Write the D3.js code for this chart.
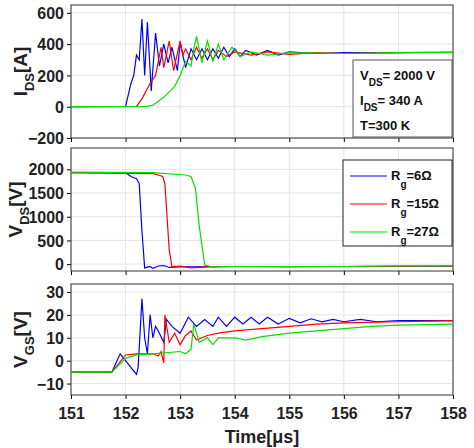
<!DOCTYPE html><html><head><meta charset="utf-8"><script src="https://cdn.jsdelivr.net/npm/d3@7"></script>
<style>body{margin:0;background:#fff}text{font-family:"Liberation Sans",Arial,sans-serif;font-weight:bold}</style></head><body><svg id="c" width="474" height="448"></svg><script>
const timeTicks=[151,152,153,154,155,156,157,158];
const idsTicks=[-200,0,200,400,600], vdsTicks=[0,500,1000,1500,2000], vgsTicks=[-10,0,10,20,30];
const seriesNames=["R_g=6Ω","R_g=15Ω","R_g=27Ω"];
const colors=["#0000ff","#ff0000","#00e000"];
const idsBlue=[[151,0],[152,2],[152.1,150],[152.15,200],[152.2,330],[152.25,300],[152.3,560],[152.35,200],[152.4,540],[152.47,100],[152.55,470],[152.62,260],[152.7,400],[152.78,280],[152.85,380],[152.95,230],[153,410],[153.1,250],[153.2,370],[153.3,300],[153.4,370],[153.5,300],[153.6,370],[153.7,310],[153.8,380],[153.9,320],[154,370],[154.1,320],[154.2,360],[154.4,330],[154.6,360],[154.8,330],[155,350],[155.5,340],[156,345],[157,345],[158,348]];
const idsRed=[[151,0],[152.2,2],[152.3,50],[152.45,150],[152.55,200],[152.65,380],[152.7,250],[152.8,420],[152.88,230],[153,420],[153.05,330],[153.1,370],[153.2,300],[153.3,380],[153.4,310],[153.5,370],[153.6,300],[153.7,360],[153.85,320],[154,350],[154.3,330],[154.6,350],[155,335],[155.5,345],[156,340],[157,345],[158,348]];
const idsGreen=[[151,0],[152.4,2],[152.5,10],[152.7,60],[152.9,130],[153,200],[153.1,290],[153.2,260],[153.25,370],[153.3,450],[153.4,280],[153.5,420],[153.6,290],[153.7,400],[153.8,300],[153.95,380],[154.1,320],[154.3,350],[154.6,330],[155,345],[156,340],[157,345],[158,345]];
const vdsBlue=[[151,1930],[152,1930],[152.1,1850],[152.2,1800],[152.25,1700],[152.3,700],[152.35,-80],[152.45,-50],[152.5,-90],[152.6,-40],[152.7,-30],[152.8,-70],[153,-60],[154,-50],[155,-55],[156,-50],[157,-45],[158,-45]];
const vdsRed=[[151,1930],[152.5,1910],[152.6,1880],[152.68,1850],[152.72,1700],[152.8,300],[152.85,-50],[153,-40],[153.2,-80],[153.5,-60],[154,-50],[155,-55],[156,-50],[157,-45],[158,-40]];
const vdsGreen=[[151,1940],[152.5,1930],[153.1,1880],[153.2,1850],[153.28,1600],[153.35,800],[153.45,-20],[153.6,-60],[154,-50],[155,-50],[156,-50],[157,-40],[158,-40]];
const vgsBlue=[[151,-5],[151.75,-5],[151.9,3],[152,0],[152.1,-3],[152.2,-6],[152.23,-3],[152.3,27],[152.35,10],[152.4,3],[152.45,20],[152.5,10],[152.55,15],[152.6,13],[152.7,8],[152.75,18],[152.85,15],[153,12],[153.15,19],[153.3,15],[153.45,18],[153.6,15],[153.7,19],[153.85,15],[154,19],[154.15,16],[154.3,19],[154.45,16],[154.6,19],[154.8,16],[155,18.5],[155.2,16.5],[155.4,18.3],[155.6,17],[155.8,18],[156,17],[156.3,18],[156.6,17],[157,17.5],[158,17.5]];
const vgsRed=[[151,-5],[151.75,-5],[152,2.5],[152.2,3],[152.5,3],[152.6,2],[152.65,4],[152.7,-1],[152.72,20],[152.8,8],[152.9,12],[153,7],[153.1,11],[153.2,13],[153.3,9],[153.5,11],[153.7,12],[154,13],[154.5,14],[155,15],[155.5,16],[156,16.5],[157,17],[158,17.5]];
const vgsGreen=[[151,-5],[151.75,-5],[152,1],[152.2,2.5],[152.5,3],[153,4],[153.1,3],[153.2,5],[153.25,16],[153.35,8],[153.5,10],[153.6,7],[153.7,10],[154,10],[154.2,9],[154.5,10.5],[155,12],[155.5,13],[156,14],[156.5,15],[157,15.5],[158,16]];

const svg=d3.select("#c");
const x=d3.scaleLinear().domain([151,158]).range([71,453]);
const panels=[
 {top:5,bot:138,dom:[-200,650],ticks:idsTicks,lab:["I","DS","[A]"],data:[idsBlue,idsRed,idsGreen]},
 {top:148,bot:271,dom:[-145,2450],ticks:vdsTicks,lab:["V","DS","[V]"],data:[vdsBlue,vdsRed,vdsGreen]},
 {top:284,bot:395,dom:[-15,33.5],ticks:vgsTicks,lab:["V","GS","[V]"],data:[vgsBlue,vgsRed,vgsGreen]}];
panels.forEach((p,pi)=>{
 const y=d3.scaleLinear().domain(p.dom).range([p.bot,p.top]);
 const g=svg.append("g");
 g.append("g").selectAll("line").data(timeTicks).join("line").attr("x1",d=>x(d)).attr("x2",d=>x(d)).attr("y1",p.top).attr("y2",p.bot).attr("stroke","#e3e3e3");
 g.append("g").selectAll("line").data(p.ticks).join("line").attr("x1",71).attr("x2",453).attr("y1",d=>y(d)).attr("y2",d=>y(d)).attr("stroke","#e3e3e3");
 const ax=g.append("g").attr("transform",`translate(71,0)`).call(d3.axisLeft(y).tickValues(p.ticks).tickSize(4).tickSizeOuter(0).tickFormat(d3.format("d")));
 ax.selectAll("text").style("font-size","16px").attr("fill","#222").attr("dy","0.35em");
 ax.select(".domain").remove();
 const bx=g.append("g").attr("transform",`translate(0,${p.bot})`).call(d3.axisBottom(x).tickValues(timeTicks).tickSize(4).tickSizeOuter(0).tickFormat(pi==2?d3.format("d"):""));
 bx.selectAll("text").style("font-size","16px").attr("fill","#222").attr("dy","1.05em");
 bx.select(".domain").remove();
 g.append("rect").attr("x",71).attr("y",p.top).attr("width",382).attr("height",p.bot-p.top).attr("fill","none").attr("stroke","#333");
 const line=d3.line().x(d=>x(d[0])).y(d=>y(d[1]));
 p.data.forEach((s,i)=>g.append("path").attr("d",line(s)).attr("fill","none").attr("stroke",colors[i]).attr("stroke-width",1.2));
 const cy=(p.top+p.bot)/2;
 const t=g.append("text").attr("transform",`translate(${pi==1?22:27},${cy}) rotate(-90)`).attr("text-anchor","middle").style("font-size","19px").attr("fill","#222");
 t.append("tspan").text(p.lab[0]);
 t.append("tspan").text(p.lab[1]).style("font-size","13px").attr("dy",7);
 t.append("tspan").text(p.lab[2]).attr("dy",-7);
});
svg.append("text").attr("x",262).attr("y",443).attr("text-anchor","middle").style("font-size","18px").attr("fill","#222").text("Time[μs]");
const a=svg.append("g");
a.append("rect").attr("x",353).attr("y",60).attr("width",99).attr("height",77).attr("fill","#fff").attr("stroke","#555");
[["V","DS","= 2000 V"],["I","DS","= 340 A"],["T=300 K","",""]].forEach((r,i)=>{
 const t=a.append("text").attr("x",360).attr("y",80+i*25).style("font-size","13px").attr("fill","#111");
 t.append("tspan").text(r[0]);
 if(r[1]){t.append("tspan").text(r[1]).style("font-size","10px").attr("dy",6);t.append("tspan").text(r[2]).attr("dy",-6);}
});
const l=svg.append("g");
l.append("rect").attr("x",343).attr("y",160).attr("width",109).attr("height",86).attr("fill","#fff").attr("stroke","#222");
seriesNames.forEach((n,i)=>{
 const yy=176+i*28;
 l.append("line").attr("x1",350).attr("x2",387).attr("y1",yy).attr("y2",yy).attr("stroke",colors[i]).attr("stroke-width",1.2);
 const t=l.append("text").attr("x",391).attr("y",yy+4).style("font-size","13px").attr("fill","#111");
 const b1=n.split("=")[1];
 t.append("tspan").text("R");
 t.append("tspan").text("g").style("font-size","10px").attr("dy",8);
 t.append("tspan").text("="+b1).attr("dy",-8);
});
</script></body></html>
